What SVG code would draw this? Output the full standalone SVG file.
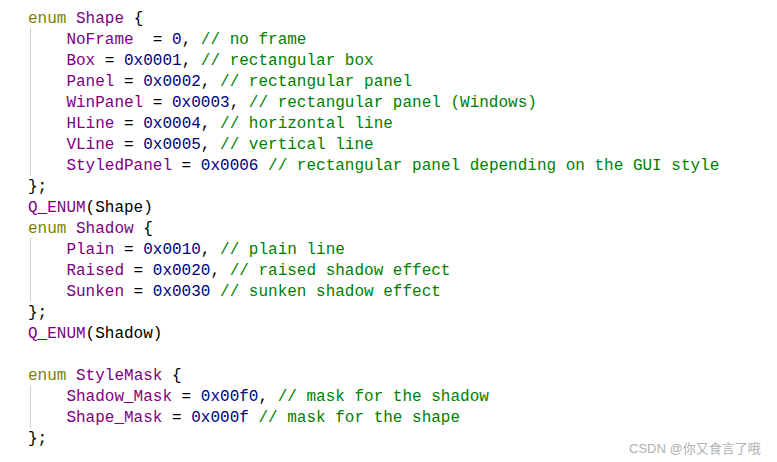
<svg xmlns="http://www.w3.org/2000/svg" width="777" height="462" viewBox="0 0 777 462">
<style>
text{font-family:"Liberation Mono","DejaVu Sans Mono",monospace;font-size:16px;fill:#000;white-space:pre}
.k{fill:#808000}.t{fill:#800080}.n{fill:#000080}.c{fill:#008000}
.g{stroke:#d0d0d0;stroke-width:1}
.w{font-family:"Liberation Sans","Noto Sans CJK SC",sans-serif;font-size:13px;fill:#b0b0b0}
</style>
<rect width="777" height="462" fill="#fff"/>
<line class="g" x1="30.5" y1="28" x2="30.5" y2="176"/>
<line class="g" x1="30.5" y1="238" x2="30.5" y2="302"/>
<line class="g" x1="30.5" y1="385" x2="30.5" y2="428"/>
<text x="28" y="23"><tspan class="k">enum</tspan> <tspan class="t">Shape</tspan> {</text>
<text x="66.4" y="44"><tspan class="t">NoFrame</tspan>  = <tspan class="n">0</tspan>, <tspan class="c">// no frame</tspan></text>
<text x="66.4" y="65"><tspan class="t">Box</tspan> = <tspan class="n">0x0001</tspan>, <tspan class="c">// rectangular box</tspan></text>
<text x="66.4" y="86"><tspan class="t">Panel</tspan> = <tspan class="n">0x0002</tspan>, <tspan class="c">// rectangular panel</tspan></text>
<text x="66.4" y="107"><tspan class="t">WinPanel</tspan> = <tspan class="n">0x0003</tspan>, <tspan class="c">// rectangular panel (Windows)</tspan></text>
<text x="66.4" y="128"><tspan class="t">HLine</tspan> = <tspan class="n">0x0004</tspan>, <tspan class="c">// horizontal line</tspan></text>
<text x="66.4" y="149"><tspan class="t">VLine</tspan> = <tspan class="n">0x0005</tspan>, <tspan class="c">// vertical line</tspan></text>
<text x="66.4" y="170"><tspan class="t">StyledPanel</tspan> = <tspan class="n">0x0006</tspan> <tspan class="c">// rectangular panel depending on the GUI style</tspan></text>
<text x="28" y="191">};</text>
<text x="28" y="212"><tspan class="t">Q_ENUM</tspan>(Shape)</text>
<text x="28" y="233"><tspan class="k">enum</tspan> <tspan class="t">Shadow</tspan> {</text>
<text x="66.4" y="254"><tspan class="t">Plain</tspan> = <tspan class="n">0x0010</tspan>, <tspan class="c">// plain line</tspan></text>
<text x="66.4" y="275"><tspan class="t">Raised</tspan> = <tspan class="n">0x0020</tspan>, <tspan class="c">// raised shadow effect</tspan></text>
<text x="66.4" y="296"><tspan class="t">Sunken</tspan> = <tspan class="n">0x0030</tspan> <tspan class="c">// sunken shadow effect</tspan></text>
<text x="28" y="317">};</text>
<text x="28" y="338"><tspan class="t">Q_ENUM</tspan>(Shadow)</text>
<text x="28" y="380"><tspan class="k">enum</tspan> <tspan class="t">StyleMask</tspan> {</text>
<text x="66.4" y="401"><tspan class="t">Shadow_Mask</tspan> = <tspan class="n">0x00f0</tspan>, <tspan class="c">// mask for the shadow</tspan></text>
<text x="66.4" y="422"><tspan class="t">Shape_Mask</tspan> = <tspan class="n">0x000f</tspan> <tspan class="c">// mask for the shape</tspan></text>
<text x="28" y="443">};</text>
<text class="w" x="629" y="453">CSDN @你又食言了哦</text>
</svg>
